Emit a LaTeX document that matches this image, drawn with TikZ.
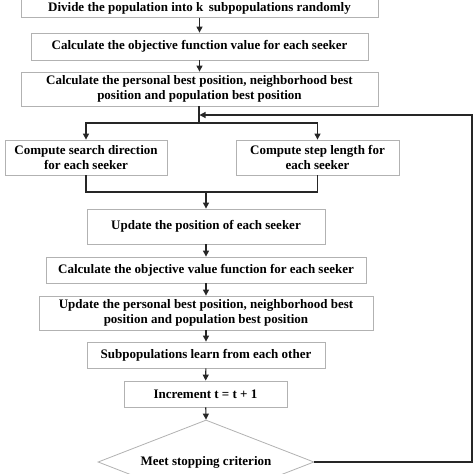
\documentclass[tikz,border=0pt]{standalone}
\usepackage{fontspec}
\setmainfont{Liberation Serif}
\usetikzlibrary{positioning,arrows.meta,shapes.geometric,calc}

\begin{document}
\begin{tikzpicture}[x=1pt, y=-1pt,
  sbox/.style={rectangle, draw=gray!60, fill=white, line width=0.8pt, align=center,
    font=\fontsize{13}{15}\selectfont\bfseries, inner sep=2pt},
  sdec/.style={diamond, aspect=2.57, draw=gray!60, fill=white, line width=0.8pt, align=center,
    font=\fontsize{13}{15}\selectfont\bfseries, inner sep=0pt,
    minimum width=216pt, minimum height=84pt},
  flow/.style={-{Triangle[length=6pt,width=6pt]}, draw=black!85, line width=1.1pt},
  link/.style={draw=black!85, line width=1.1pt}]
\useasboundingbox (0,0) rectangle (474,474);
% main column
\node[sbox, minimum width=357pt, minimum height=18pt] (divide) at (199.5,8.5)
  {Divide the population into k\, subpopulations randomly};
\node[sbox, minimum width=337pt, minimum height=27pt] (evalobj) at (199.5,46.5)
  {Calculate the objective function value for each seeker};
\node[sbox, minimum width=357pt, minimum height=34pt] (bestpos) at (199.5,89)
  {Calculate the personal best position, neighborhood best\\position and population best position};
\node[sbox, minimum width=162pt, minimum height=35pt] (sdir) at (86,157.5)
  {Compute search direction\\for each seeker};
\node[sbox, minimum width=163pt, minimum height=35pt] (slen) at (317.5,157.5)
  {Compute step length for\\each seeker};
\node[sbox, minimum width=238pt, minimum height=35pt] (update) at (206,226.5)
  {Update the position of each seeker};
\node[sbox, minimum width=320pt, minimum height=26pt] (evalnew) at (206,270)
  {Calculate the objective value function for each seeker};
\node[sbox, minimum width=334pt, minimum height=34pt] (bestupd) at (206,313)
  {Update the personal best position, neighborhood best\\position and population best position};
\node[sbox, minimum width=238pt, minimum height=26pt] (learn) at (206,355)
  {Subpopulations learn from each other};
\node[sbox, minimum width=163pt, minimum height=26pt] (incr) at (205.5,394)
  {Increment t = t + 1};
\node[sdec] (stopq) at (206,462) {Meet stopping criterion};
% helper points
\coordinate (split) at (199,123);
\coordinate (merge) at (206,192);
\coordinate (loopin) at (199.5,115);
\coordinate (rim) at (472,0);
% connectors
\draw[flow] (divide) -- (evalobj);
\draw[flow] (evalobj) -- (bestpos);
\draw[link] (bestpos.south -| split) -- (split);
\draw[flow] (split) -| (sdir.north);
\draw[flow] (split) -| (slen.north);
\draw[link] (sdir.south) -- (sdir.south |- merge) -- (slen.south |- merge) -- (slen.south);
\draw[flow] (merge) -- (update.north -| merge);
\draw[flow] (update) -- (evalnew);
\draw[flow] (evalnew) -- (bestupd);
\draw[flow] (bestupd) -- (learn);
\draw[flow] (learn) -- (incr);
\draw[flow] (incr) -- (stopq.north);
\draw[flow] (stopq.east) -- (stopq.east -| rim) |- (loopin);
\end{tikzpicture}
\end{document}
